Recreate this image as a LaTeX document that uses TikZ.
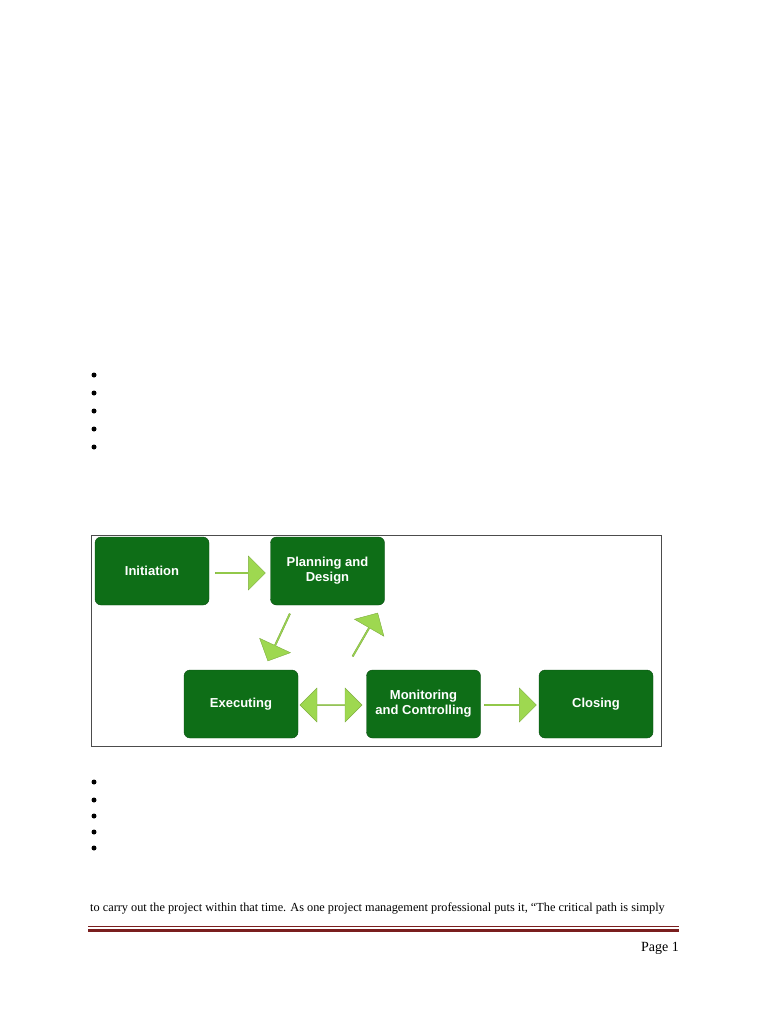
\documentclass[tikz,border=0pt]{standalone}
\usepackage{fontspec}
\setmainfont{Liberation Serif}
\newfontfamily\boxfont{Liberation Sans}
\usetikzlibrary{shapes.arrows}
\definecolor{boxg}{HTML}{0E6E17}
\definecolor{arrg}{HTML}{9ED850}
\definecolor{rulec}{HTML}{7A1E1E}
\tikzset{
 phase/.style={draw=boxg!70!black,fill=boxg,rounded corners=6pt,minimum width=114pt,minimum height=68pt,
   text=white,font=\boxfont\bfseries\fontsize{13}{15}\selectfont,align=center,inner sep=0pt},
 fat/.style={single arrow,fill=arrg,draw=arrg!80!black,minimum height=50pt,minimum width=40pt,
   single arrow head extend=6pt,inner sep=0pt,single arrow tip angle=90,shape border uses incircle},
 dfat/.style={double arrow,fill=arrg,draw=arrg!80!black,minimum height=60pt,minimum width=40pt,
   double arrow head extend=6pt,inner sep=0pt},
 bul/.style={circle,fill=black,inner sep=0pt,minimum size=5pt}
}
\begin{document}
\begin{tikzpicture}[x=1pt,y=-1pt]
\useasboundingbox (0,0) rectangle (768,1024);
\node[draw=black!70,line width=0.8pt,minimum width=570pt,minimum height=211pt,inner sep=0pt] (frame) at (376,640.5) {};
\node[phase] (init) at (152,571) {Initiation};
\node[phase] (plan) at (327.5,571) {Planning and\\Design};
\node[phase] (exec) at (241,704) {Executing};
\node[phase] (mon) at (423.5,704) {Monitoring\\and Controlling};
\node[phase] (clos) at (596,704) {Closing};
\node[fat,minimum height=50pt,minimum width=34pt] (a1) at (240,573) {};
\node[fat,minimum height=52pt,minimum width=34pt,rotate=-115] (a2) at (279,637) {};
\node[fat,minimum height=50pt,minimum width=34pt,rotate=60] (a3) at (365,635) {};
\node[dfat,minimum height=62pt,minimum width=34pt] (a4) at (331,705) {};
\node[fat,minimum height=52pt,minimum width=34pt] (a5) at (510,705) {};
\foreach \y [count=\i] in {375,393,411,429,447} \node[bul] (b\i) at (94,\y) {};
\foreach \y [count=\i] in {782,800,816,832,848} \node[bul] (c\i) at (94,\y) {};
\node[anchor=west,inner sep=0pt,font=\fontsize{12.3}{14}\selectfont] (txt) at (90,908) {to carry out the project within that time. As one project management professional puts it, ``The critical path is simply};
\coordinate (r1) at (88,930); \coordinate (r2) at (679,930);
\draw[rulec,line width=3pt] (r1) -- (r2);
\draw[rulec,line width=0.8pt] ([yshift=4pt]r1) -- ([yshift=4pt]r2);
\node[anchor=east,inner sep=0pt,font=\fontsize{14}{16}\selectfont] (pg) at (679,948) {Page 1};
\end{tikzpicture}
\end{document}
